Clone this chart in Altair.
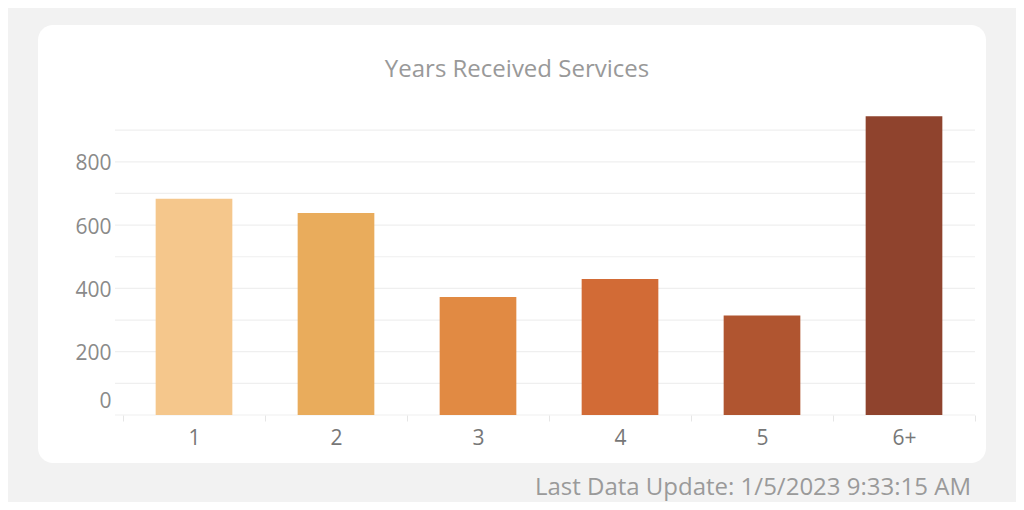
import altair as alt
import pandas as pd

categories = ["1", "2", "3", "4", "5", "6+"]
values = [683, 638, 373, 430, 314, 944]
colors = ["#f5c78c", "#e9ac5c", "#e18a43", "#d26b36", "#b05530", "#8f432d"]
grid_values = [0, 100, 200, 300, 400, 500, 600, 700, 800, 900]
y_ticks = [0, 200, 400, 600, 800]
title_text = "Years Received Services"
footer_text = "Last Data Update: 1/5/2023 9:33:15 AM"

FONT = "Open Sans"
W, H = 852, 307

df = pd.DataFrame({"cat": categories, "val": values})
grid_df = pd.DataFrame({"g": grid_values})
one = pd.DataFrame({"k": [0]})

yscale = alt.Scale(domain=[0, 970], nice=False, zero=True)

card = alt.Chart(one).mark_rect(fill="white", cornerRadius=15).encode(
    x=alt.value(-85), x2=alt.value(863), y=alt.value(-83), y2=alt.value(355)
)

grid = alt.Chart(grid_df).mark_rule(color="#efefef", strokeWidth=1.2).encode(
    y=alt.Y("g:Q", scale=yscale, title=None),
    x=alt.value(-8), x2=alt.value(W),
)

bars = alt.Chart(df).mark_bar(width=alt.RelativeBandSize(0.54)).encode(
    x=alt.X(
        "cat:N", sort=categories, title=None,
        scale=alt.Scale(paddingInner=0, paddingOuter=0),
        axis=alt.Axis(
            labelAngle=0, labelFont=FONT, labelFontSize=21, labelColor="#777777",
            domain=False, ticks=True, tickBand="extent", tickSize=6,
            tickColor="#e6e6e6", labelPadding=6, grid=False, zindex=1,
        ),
    ),
    y=alt.Y(
        "val:Q", scale=yscale, title=None,
        axis=alt.Axis(
            values=y_ticks, labelFont=FONT, labelFontSize=21, labelColor="#8a8a8a",
            domain=False, ticks=False, grid=False, labelPadding=12, zindex=1,
            labelOffset=alt.ExprRef("datum.value == 0 ? -14 : 2"),
        ),
    ),
    color=alt.Color("cat:N", sort=categories,
                    scale=alt.Scale(domain=categories, range=colors), legend=None),
)

title = alt.Chart(one).mark_text(
    text=title_text, font=FONT, fontSize=24, color="#999999", align="center", baseline="middle"
).encode(x=alt.value(394), y=alt.value(-38))

footer = alt.Chart(one).mark_text(
    text=footer_text, font=FONT, fontSize=24, color="#9a9a9a", align="right", baseline="alphabetic"
).encode(x=alt.value(848), y=alt.value(387))

chart = alt.layer(card, grid, bars, title, footer).properties(
    width=W, height=H,
    background="#f2f2f2",
    padding={"left": 115, "top": 100, "right": 41, "bottom": 87},
    autosize=alt.AutoSizeParams(type="none"),
).resolve_scale(y="shared").configure_view(stroke=None)

chart.save("out.html", embed_options={"renderer": "svg", "actions": False})
